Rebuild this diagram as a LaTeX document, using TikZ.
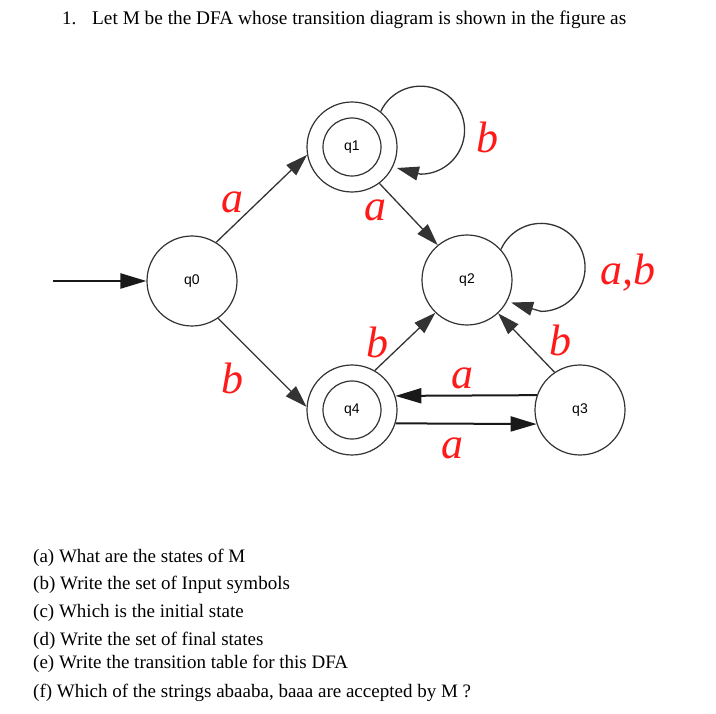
\documentclass[tikz,border=0pt]{standalone}
\usepackage{fontspec}
\setmainfont{Liberation Serif}
\newfontfamily\statefont{Liberation Sans}
\usetikzlibrary{arrows.meta}
\definecolor{ln}{HTML}{333333}
\definecolor{lab}{HTML}{FF1A1A}
\begin{document}
\begin{tikzpicture}[x=1pt,y=-1pt,
  state/.style={circle, draw=ln, line width=1.2pt, minimum size=90pt, inner sep=0pt,
    font=\statefont\fontsize{14}{14}\selectfont},
  accept/.style={state, path picture={\draw[line width=1.2pt, ln] (path picture bounding box.center) circle (29pt);}},
  edge/.style={draw=ln, line width=1.3pt, -{Triangle[length=22pt,width=14pt]}},
  loopedge/.style={edge, shorten >=4pt},
  hedge/.style={draw=black!90, line width=2pt, -{Triangle[length=26pt,width=15pt]}},
  initedge/.style={draw=black!90, line width=2.4pt, -{Triangle[length=26pt,width=15pt]}},
  tlabel/.style={text=lab, font=\fontsize{44}{44}\selectfont\itshape, inner sep=0pt},
  txt/.style={anchor=base west, inner sep=0pt, font=\fontsize{19}{19}\selectfont}]
\useasboundingbox (0,0) rectangle (716,714);

% title
\node[txt] (num) at (62,25) {1.};
\node[txt, font=\fontsize{19.3}{19.3}\selectfont] (title) at (92,25) {Let M be the DFA whose transition diagram is shown in the figure as};

% states
\node[state]  (q0) at (192,281) {q0};
\node[accept] (q1) at (352,147) {q1};
\node[state]  (q2) at (467,280) {q2};
\node[accept] (q4) at (352,410) {q4};
\node[state]  (q3) at (580,410) {q3};

% initial arrow
\coordinate (start) at (53,281);
\draw[initedge] (start) -- (q0.west);

% transitions
\draw[edge] (q0.58) -- (q1.190);
\draw[edge] (q0.-55) -- (q4.176);
\draw[edge] (q1.-53) -- (q2.130);
\draw[edge] (q4.60) -- (q2.226);
\draw[edge] (q3.124) -- (q2.-47);
\draw[hedge] (q3.161) -- (q4.18);
\draw[hedge] (q4.-17) -- (q3.198);
\draw[loopedge] (q1.51) arc[start angle=155, end angle=-90, radius=44pt] -- (q1.-26);
\draw[loopedge] (q2.42) arc[start angle=156, end angle=-90, radius=44pt] -- (q2.-28);

% labels
\node[tlabel] (l01) at (232,202) {a};
\node[tlabel] (l11) at (487,137) {b};
\node[tlabel] (l12) at (375,210) {a};
\node[tlabel] (l22) at (628,273) {a,b};
\node[tlabel] (l42) at (377,342) {b};
\node[tlabel] (l32) at (560,340) {b};
\node[tlabel] (l04) at (232,378) {b};
\node[tlabel] (l34) at (462,378) {a};
\node[tlabel] (l43) at (452,448) {a};

% questions
\node[txt] (qa) at (33,562) {(a) What are the states of M};
\node[txt] (qb) at (33,589) {(b) Write the set of Input symbols};
\node[txt] (qc) at (33,617) {(c) Which is the initial state};
\node[txt] (qd) at (33,645) {(d) Write the set of final states};
\node[txt] (qe) at (33,668) {(e) Write the transition table for this DFA};
\node[txt] (qf) at (33,697) {(f) Which of the strings abaaba, baaa are accepted by M ?};
\end{tikzpicture}
\end{document}
